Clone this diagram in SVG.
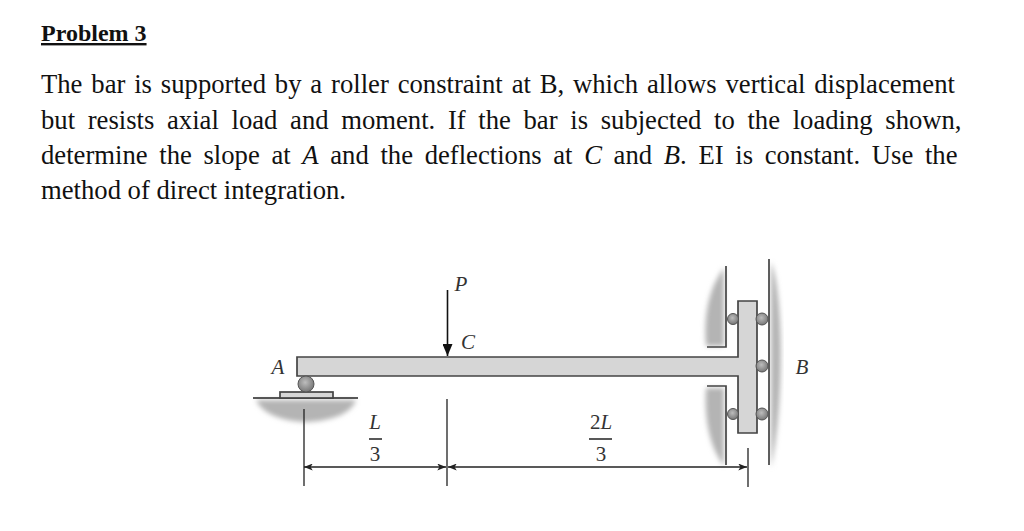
<svg xmlns="http://www.w3.org/2000/svg" width="1024" height="531" viewBox="0 0 1024 531">
<defs>
<style>
.t{font-family:"Liberation Serif","Times New Roman",serif;font-size:26.67px;fill:#111}
.l{font-family:"Liberation Serif","Times New Roman",serif;font-size:21px;font-style:italic;fill:#333;text-anchor:middle}
.n{font-family:"Liberation Serif","Times New Roman",serif;font-size:21px;fill:#333;text-anchor:middle}
.s{fill:none;stroke:#444;stroke-width:1.7}
.d{fill:none;stroke:#222;stroke-width:1.3}
.m{fill:#d6d6d6;stroke:#444;stroke-width:1.7}
.shadow{fill:#b4b4b4;filter:url(#b)}
.r{fill:url(#ball);stroke:#555;stroke-width:1}
</style>
<filter id="b" x="-30%" y="-30%" width="160%" height="160%"><feGaussianBlur stdDeviation="2.6"/></filter>
<radialGradient id="ball" cx="0.45" cy="0.4" r="0.6"><stop offset="0" stop-color="#bdbdbd"/><stop offset="1" stop-color="#777"/></radialGradient>
<marker id="ah" viewBox="0 0 10 8" refX="10" refY="4" markerWidth="9" markerHeight="7" markerUnits="userSpaceOnUse" orient="auto-start-reverse"><path d="M0 0L10 4L0 8L2.5 4Z" fill="#222"/></marker>
<marker id="load" viewBox="0 0 10 12" refX="5" refY="12" markerWidth="10" markerHeight="12" markerUnits="userSpaceOnUse" orient="0"><path d="M0 0L10 0L5 12Z" fill="#111"/></marker>
</defs>
<rect width="1024" height="531" fill="#fff"/>
<g id="text">
<text x="41" y="41" style="font-family:'Liberation Serif',serif;font-size:24px;font-weight:bold;fill:#111;text-decoration:underline">Problem 3</text>
<text class="t" x="41" y="93" word-spacing="2.2">The bar is supported by a roller constraint at B, which allows vertical displacement</text>
<text class="t" x="41" y="129" word-spacing="6">but resists axial load and moment. If the bar is subjected to the loading shown,</text>
<text class="t" x="41" y="164" word-spacing="5">determine the slope at <tspan font-style="italic">A</tspan> and the deflections at <tspan font-style="italic">C</tspan> and <tspan font-style="italic">B</tspan>. EI is constant. Use the</text>
<text class="t" x="41" y="199">method of direct integration.</text>
</g>
<g id="supports">
<path class="shadow" d="M256 400H356C352 412 335 421 305 422C280 421 262 413 256 400Z"/>
<path class="shadow" d="M724 268C711 285 703 310 706 346H724Z"/>
<path class="shadow" d="M724 388H706C704 420 710 448 724 466Z"/>
<path class="shadow" d="M771 262C783 290 785 400 771 468Z"/>
<path class="s" d="M726 266V347H707M726 465V386H707M769 259V465"/>
<path class="d" d="M253 398H358"/>
<rect id="A-plate" class="m" x="280" y="392" width="53" height="6"/>
</g>
<g id="bar">
<path class="m" d="M738 357V301H757V433H738V376H297V357Z"/>
</g>
<g id="rollers">
<circle class="r" cx="306" cy="384" r="8"/>
<circle class="r" cx="733" cy="319" r="5.5"/>
<circle class="r" cx="762" cy="319" r="6"/>
<circle class="r" cx="762" cy="366" r="6"/>
<circle class="r" cx="733" cy="414" r="5.5"/>
<circle class="r" cx="762" cy="414" r="6"/>
</g>
<g id="connectors">
<path d="M447.5 290V356" stroke="#111" stroke-width="1.6" fill="none" marker-end="url(#load)"/>
<path class="d" d="M304 409V486M447 399V486M748 448V487"/>
<path class="d" d="M304 467H446" marker-start="url(#ah)" marker-end="url(#ah)"/>
<path class="d" d="M448 467H747" marker-start="url(#ah)" marker-end="url(#ah)"/>
<path class="d" d="M369 439H382M589 439H612"/>
</g>
<g id="labels">
<text class="l" x="278" y="374">A</text>
<text class="l" x="461" y="291">P</text>
<text class="l" x="468" y="349">C</text>
<text class="l" x="802" y="374">B</text>
<text class="l" x="375" y="429">L</text>
<text class="n" x="375" y="461">3</text>
<text class="l" x="601" y="429"><tspan font-style="normal">2</tspan>L</text>
<text class="n" x="601" y="461">3</text>
</g>
</svg>
